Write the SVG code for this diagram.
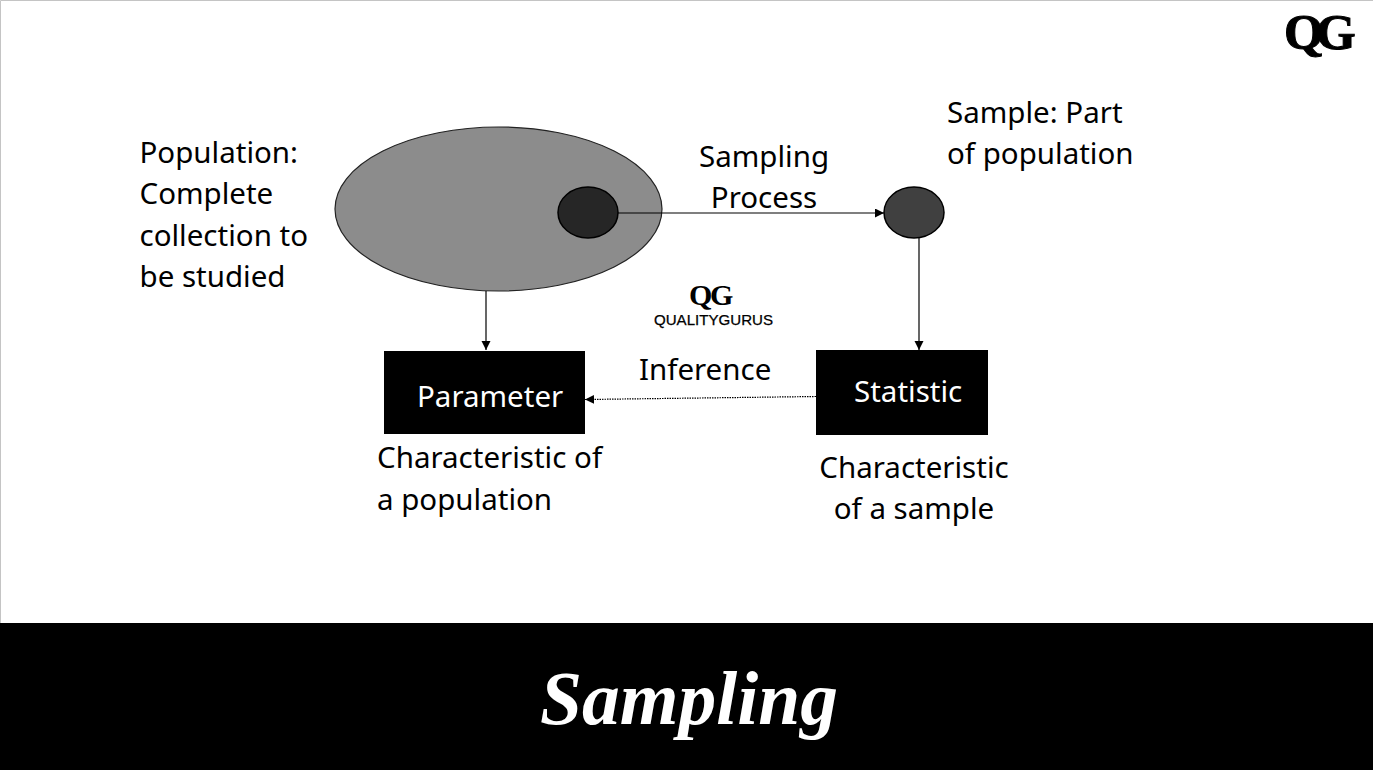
<svg xmlns="http://www.w3.org/2000/svg" width="1373" height="770" viewBox="0 0 1373 770">
<defs>
<marker id="arrow" markerUnits="userSpaceOnUse" markerWidth="10" markerHeight="10" refX="9" refY="4.5" orient="auto"><path d="M0 0L9 4.5L0 9Z" fill="#000"/></marker>
</defs>
<style>
.l{font-family:"Noto Sans","Open Sans",sans-serif;font-size:29.5px;fill:#000}
.w{fill:#fff}
.m{text-anchor:middle}
.c{stroke:#000;stroke-width:1.2;fill:none}
.logo{font-family:"Liberation Serif",serif;font-weight:700;fill:#000}
</style>
<rect x="0" y="0" width="1373" height="770" fill="#fff"/>
<path d="M.5 623V.5H1373" fill="none" stroke="#c4c4c4"/>
<g id="footer">
<rect x="0" y="623" width="1373" height="147" fill="#000"/>
<text x="540" y="724" font-family="'Liberation Serif',serif" font-style="italic" font-weight="700" font-size="77" fill="#fff" textLength="298" lengthAdjust="spacingAndGlyphs">Sampling</text>
</g>
<g id="logo-top"><text x="1284 1316" y="49" class="logo" font-size="51" stroke="#000" stroke-width="1">QG</text></g>
<g id="logo-center">
<text x="689 710" y="305" class="logo" font-size="30">QG</text>
<text x="654" y="325" font-family="'Liberation Sans',sans-serif" font-size="14" fill="#000" stroke="#000" stroke-width=".25" textLength="119" lengthAdjust="spacingAndGlyphs">QUALITYGURUS</text>
</g>
<g id="population">
<ellipse cx="498.500" cy="209" rx="163.500" ry="82" fill="#8c8c8c" stroke="#222" stroke-width="1.200"/>
</g>
<g id="population-label"><text class="l" x="139.500" y="163">Population:</text><text class="l" x="139.500" y="204">Complete</text><text class="l" x="139.500" y="246">collection to</text><text class="l" x="139.500" y="287">be studied</text></g>
<g id="sample-in-population"><ellipse cx="588" cy="212.500" rx="30" ry="25.500" fill="#262626" stroke="#000" stroke-width="1.500"/></g>
<g id="sample"><ellipse cx="914" cy="212.500" rx="30" ry="25.500" fill="#404040" stroke="#000" stroke-width="1.500"/></g>
<g id="sample-label"><text class="l" x="947" y="123">Sample: Part</text><text class="l" x="947" y="164">of population</text></g>
<g id="sampling-process-label"><text class="l m" x="764" y="167">Sampling</text><text class="l m" x="764" y="208">Process</text></g>
<g id="parameter"><rect x="384" y="351" width="201" height="83" fill="#000"/><text class="l w" x="417" y="407">Parameter</text></g>
<g id="parameter-label"><text class="l" x="377" y="468">Characteristic of</text><text class="l" x="377" y="510">a population</text></g>
<g id="statistic"><rect x="816" y="350" width="172" height="85" fill="#000"/><text class="l w" x="854" y="401.500">Statistic</text></g>
<g id="statistic-label"><text class="l m" x="914" y="478">Characteristic</text><text class="l m" x="914" y="519">of a sample</text></g>
<g id="inference-label"><text class="l" x="639" y="380">Inference</text></g>
<g id="connectors">
<path class="c" d="M618 213H884" marker-end="url(#arrow)"/>
<path class="c" d="M919 238V350" marker-end="url(#arrow)"/>
<path class="c" d="M486 291V350" marker-end="url(#arrow)"/>
<path class="c" d="M816 396.500L585 399.500" stroke-dasharray="1.500 1" marker-end="url(#arrow)"/>
</g>
</svg>
